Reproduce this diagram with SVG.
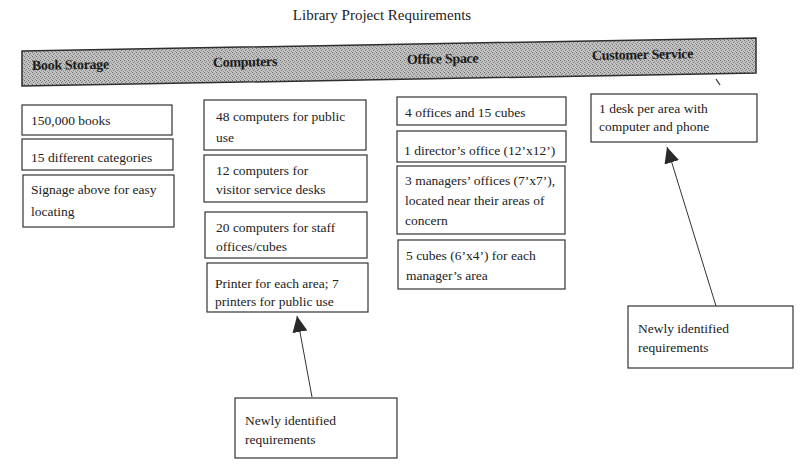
<svg xmlns="http://www.w3.org/2000/svg" width="808" height="476" viewBox="0 0 808 476">
<style>
  .t { font-family: "Liberation Serif", "DejaVu Serif", serif; font-size: 13.5px; fill: #222; }
  .h { font-family: "Liberation Serif", "DejaVu Serif", serif; font-size: 14px; font-weight: bold; fill: #1a1a1a; letter-spacing: -0.3px; }
  .title { font-family: "Liberation Serif", "DejaVu Serif", serif; font-size: 15px; fill: #222; }
  .box { fill: #ffffff; stroke: #333333; stroke-width: 1.2; }
  .conn { stroke: #333; stroke-width: 1; fill: none; }
</style>
<defs>
  <pattern id="dots" width="4" height="4" patternUnits="userSpaceOnUse">
    <rect width="4" height="4" fill="#c2c2c2"/>
    <rect x="0" y="0" width="1" height="1" fill="#6a6a6a"/>
    <rect x="2" y="1" width="1" height="1" fill="#858585"/>
    <rect x="1" y="2" width="1" height="1" fill="#7a7a7a"/>
    <rect x="3" y="3" width="1" height="1" fill="#909090"/>
  </pattern>
  <marker id="arrow" markerWidth="17" markerHeight="15" refX="16" refY="7.5" orient="auto" markerUnits="userSpaceOnUse">
    <path d="M0,0 L16,7.5 L0,15 Z" fill="#2a2a2a"/>
  </marker>
</defs>
<rect width="808" height="476" fill="#ffffff"/>

<text class="title" x="382" y="20" text-anchor="middle">Library Project Requirements</text>

<g id="banner">
  <polygon points="22,51 756,38 756,73 22,86" fill="url(#dots)" stroke="#2e2e2e" stroke-width="1.5"/>
  <text class="h" x="32" y="70" transform="rotate(-1 32 70)">Book Storage</text>
  <text class="h" x="213" y="67" transform="rotate(-1 213 67)">Computers</text>
  <text class="h" x="407" y="64" transform="rotate(-1 407 64)">Office Space</text>
  <text class="h" x="592" y="60" transform="rotate(-1 592 60)">Customer Service</text>
  <line x1="716" y1="79" x2="720" y2="85" stroke="#333" stroke-width="1.3"/>
</g>

<g id="book-storage-1">
  <rect class="box" x="22" y="105" width="150" height="30"/>
  <text class="t" x="31" y="125">150,000 books</text>
</g>
<g id="book-storage-2">
  <rect class="box" x="22" y="139" width="151" height="31"/>
  <text class="t" x="31" y="162">15 different categories</text>
</g>
<g id="book-storage-3">
  <rect class="box" x="23" y="175" width="151" height="52"/>
  <text class="t" x="31" y="194">Signage above for easy</text>
  <text class="t" x="31" y="216">locating</text>
</g>

<g id="computers-1">
  <rect class="box" x="204" y="100" width="162" height="50"/>
  <text class="t" x="216" y="121">48 computers for public</text>
  <text class="t" x="216" y="142">use</text>
</g>
<g id="computers-2">
  <rect class="box" x="204" y="155" width="163" height="47"/>
  <text class="t" x="216" y="175">12 computers for</text>
  <text class="t" x="216" y="194">visitor service desks</text>
</g>
<g id="computers-3">
  <rect class="box" x="205" y="212" width="162" height="46"/>
  <text class="t" x="216" y="232">20 computers for staff</text>
  <text class="t" x="216" y="251">offices/cubes</text>
</g>
<g id="computers-4">
  <rect class="box" x="207" y="263" width="161" height="49"/>
  <text class="t" x="215" y="288">Printer for each area; 7</text>
  <text class="t" x="215" y="306">printers for public use</text>
</g>

<g id="office-1">
  <rect class="box" x="397" y="97" width="169" height="28"/>
  <text class="t" x="405" y="117">4 offices and 15 cubes</text>
</g>
<g id="office-2">
  <rect class="box" x="397" y="131" width="169" height="31"/>
  <text class="t" x="404" y="155">1 director’s office (12’x12’)</text>
</g>
<g id="office-3">
  <rect class="box" x="397" y="166" width="168" height="68"/>
  <text class="t" x="405" y="185">3 managers’ offices (7’x7’),</text>
  <text class="t" x="405" y="205">located near their areas of</text>
  <text class="t" x="405" y="225">concern</text>
</g>
<g id="office-4">
  <rect class="box" x="398" y="240" width="167" height="49"/>
  <text class="t" x="406" y="260">5 cubes (6’x4’) for each</text>
  <text class="t" x="406" y="280">manager’s area</text>
</g>

<g id="customer-1">
  <rect class="box" x="591" y="94" width="166" height="48"/>
  <text class="t" x="599" y="113">1 desk per area with</text>
  <text class="t" x="599" y="131">computer and phone</text>
</g>

<g id="newly-1">
  <rect class="box" x="235" y="398" width="162" height="60"/>
  <text class="t" x="245" y="425">Newly identified</text>
  <text class="t" x="245" y="444">requirements</text>
</g>
<g id="newly-2">
  <rect class="box" x="628" y="306" width="165" height="62"/>
  <text class="t" x="638" y="333">Newly identified</text>
  <text class="t" x="638" y="352">requirements</text>
</g>

<g id="connectors">
  <line class="conn" x1="312" y1="397" x2="297" y2="316" marker-end="url(#arrow)"/>
  <line class="conn" x1="716" y1="306" x2="667" y2="147" marker-end="url(#arrow)"/>
</g>
</svg>
